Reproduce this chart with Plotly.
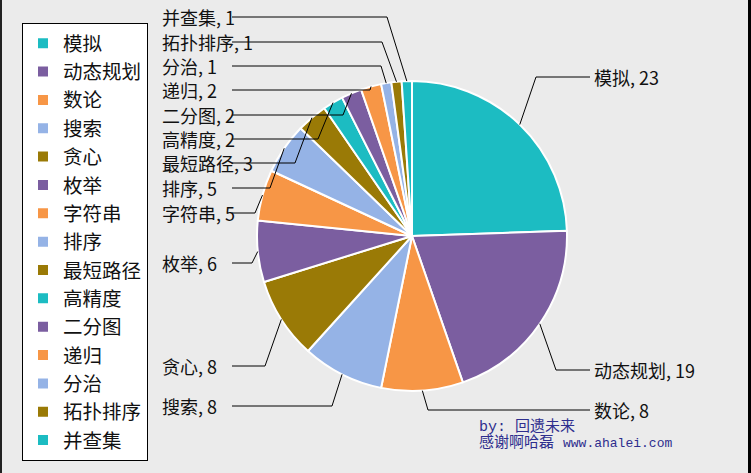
import math
import plotly.graph_objects as go

W, H = 751, 473

# ---- data ----
categories = ["模拟", "动态规划", "数论", "搜索", "贪心", "枚举", "字符串", "排序",
              "最短路径", "高精度", "二分图", "递归", "分治", "拓扑排序", "并查集"]
values = [23, 19, 8, 8, 8, 6, 5, 5, 3, 2, 2, 2, 1, 1, 1]

CYAN, PURPLE, ORANGE, LBLUE, OLIVE = "#1CBCC2", "#7B5EA0", "#F79646", "#95B3E6", "#9A7A06"
colors = [CYAN, PURPLE, ORANGE, LBLUE, OLIVE, PURPLE, ORANGE, LBLUE,
          OLIVE, CYAN, PURPLE, ORANGE, LBLUE, OLIVE, CYAN]

# ---- layout constants (pixels) ----
CX, CY, R = 412, 236, 155
# label placement: (text left x, text centre y, elbow x)
label_pos = {
    "模拟": (592, 77, 536),
    "动态规划": (592, 370, 556),
    "数论": (592, 410, 428),
    "搜索": (160, 406, 332),
    "贪心": (160, 366, 265),
    "枚举": (160, 263, 252),
    "字符串": (160, 213, 255),
    "排序": (160, 188, 270),
    "最短路径": (160, 163, 295),
    "高精度": (160, 139, 318),
    "二分图": (160, 115, 343),
    "递归": (160, 90, 370),
    "分治": (160, 66, 381),
    "拓扑排序": (160, 42, 382),
    "并查集": (160, 17, 387),
}


def px(x):
    return x / W


def py(y):
    return 1 - y / H


fig = go.Figure()
fig.add_trace(go.Pie(
    labels=categories,
    values=values,
    sort=False,
    direction="clockwise",
    rotation=0,
    textinfo="none",
    marker=dict(colors=colors, line=dict(color="white", width=2)),
    domain=dict(x=[px(CX - R), px(CX + R)], y=[py(CY + R), py(CY - R)]),
    showlegend=True,
    hoverinfo="label+value+percent",
))

total = sum(values)
shapes = []
annotations = []
cum = 0
for cat, v in zip(categories, values):
    mid = (cum + v / 2) / total * 2 * math.pi
    cum += v
    ex = CX + R * math.sin(mid)
    ey = CY - R * math.cos(mid)
    tx, ty, elbow = label_pos[cat]
    if tx > CX:
        start = tx - 2
    else:
        start = 232
    path = f"M {px(start)} {py(ty)} L {px(elbow)} {py(ty)} L {px(ex)} {py(ey)}"
    shapes.append(dict(type="path", path=path, xref="paper", yref="paper",
                       line=dict(color="#000000", width=1)))
    annotations.append(dict(
        text=f"{cat}, {v}", x=px(tx), y=py(ty), xref="paper", yref="paper",
        xanchor="left", yanchor="middle", showarrow=False,
        font=dict(family="Noto Sans CJK SC", size=18, color="#111111"),
    ))

# watermark
wm_font = dict(family="Liberation Mono, Noto Sans CJK SC", size=15, color="#2E2E8E")
annotations.append(dict(text="by: 回遗未来", x=px(477), y=py(427), xref="paper", yref="paper",
                        xanchor="left", yanchor="middle", showarrow=False, font=wm_font))
annotations.append(dict(text="感谢啊哈磊 <span style='font-size:13px'>www.ahalei.com</span>",
                        x=px(477), y=py(443), xref="paper", yref="paper",
                        xanchor="left", yanchor="middle", showarrow=False, font=wm_font))

# dark window edges
shapes.append(dict(type="rect", xref="paper", yref="paper", x0=px(748), x1=1, y0=0, y1=1,
                   fillcolor="#000000", line=dict(width=0), layer="above"))
shapes.append(dict(type="rect", xref="paper", yref="paper", x0=0, x1=px(2), y0=0, y1=1,
                   fillcolor="#222222", line=dict(width=0), layer="above"))

fig.update_layout(
    width=W, height=H,
    margin=dict(l=0, r=0, t=0, b=0, autoexpand=False),
    paper_bgcolor="#EBEBEB",
    plot_bgcolor="#EBEBEB",
    shapes=shapes,
    annotations=annotations,
    legend=dict(
        x=px(22), y=py(23), xanchor="left", yanchor="top",
        bgcolor="white", bordercolor="#000000", borderwidth=1,
        font=dict(family="Noto Sans CJK SC", size=19.5, color="#111111"),
        traceorder="normal",
    ),
)

fig.write_html("out.html", config={"displayModeBar": False},
               post_script="document.body.style.margin='0';")
